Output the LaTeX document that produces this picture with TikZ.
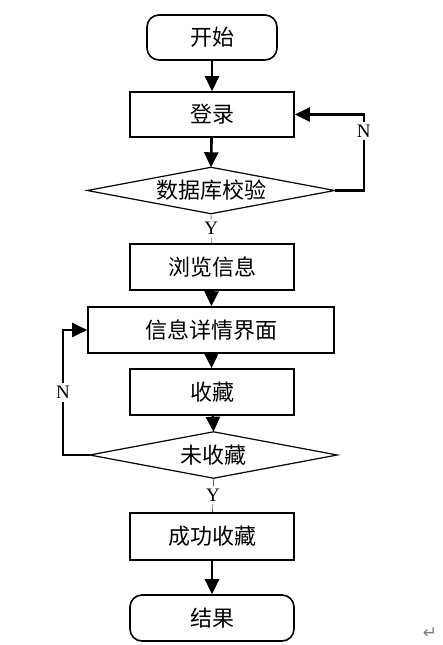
\documentclass[tikz,border=0pt]{standalone}
\usepackage{fontspec}
\setmainfont{Liberation Serif}
\newfontfamily\cjk{Noto Sans CJK SC}
\newfontfamily\symfont{DejaVu Sans}
\usepackage{tikz}
\usetikzlibrary{arrows.meta,positioning}

\begin{document}
\begin{tikzpicture}[x=1pt,y=-1pt,>={Triangle[length=15pt,width=14pt]},
  txt/.style={font=\cjk\fontsize{22}{22}\selectfont,inner sep=0pt},
  box/.style={txt,draw,line width=1.6pt,minimum width=164pt,minimum height=46pt},
  term/.style={box,rounded corners=12pt},
  cond/.style={txt,minimum width=247pt,minimum height=46pt},
  flow/.style={line width=2.6pt,->},
  back/.style={line width=2.2pt,->},
  yn/.style={fill=white,inner sep=3pt,font=\fontsize{19}{19}\selectfont}]
\useasboundingbox(0,0)rectangle(443,645);
% nodes
\node[term,minimum width=130pt,minimum height=45pt](start)at(212,37.5){开始};
\node[box,minimum height=45pt](login)at(212,114.5){登录};
\node[cond](check)at(211,190.5){数据库校验};
\draw[line width=1.2pt](check.west)--(check.north)--(check.east)--(check.south)--cycle;
\node[box](browse)at(212,267){浏览信息};
\node[box,minimum width=246pt](detail)at(211,330){信息详情界面};
\node[box](fav)at(212,392){收藏};
\node[cond](notfav)at(213.5,455){未收藏};
\draw[line width=1.2pt](notfav.west)--(notfav.north)--(notfav.east)--(notfav.south)--cycle;
\node[box,minimum height=47pt](done)at(212,536.5){成功收藏};
\node[term](finish)at(212,618){结果};
% connectors
\draw[flow](start)--(login);
\draw[flow](login)--(check.north);
\draw[line width=0.4pt](check.south)--node[yn](y1){Y}(browse);
\draw[flow](browse)--(detail);
\draw[flow](detail)--(fav);
\draw[flow](fav)--(notfav.north);
\draw[line width=0.4pt](notfav.south)--node[yn](y2){Y}(done);
\draw[flow](done)--(finish);
\draw[back](check.east)--++(29,0)|-node[yn,pos=0.39](n1){N}(login.east);
\draw[back](notfav.west)--(63,455)|-node[yn,pos=0.25](n2){N}(detail.west);
\node[text=gray,font=\symfont\fontsize{17}{17}\selectfont](ret)at(430,633){↵};
\end{tikzpicture}
\end{document}
